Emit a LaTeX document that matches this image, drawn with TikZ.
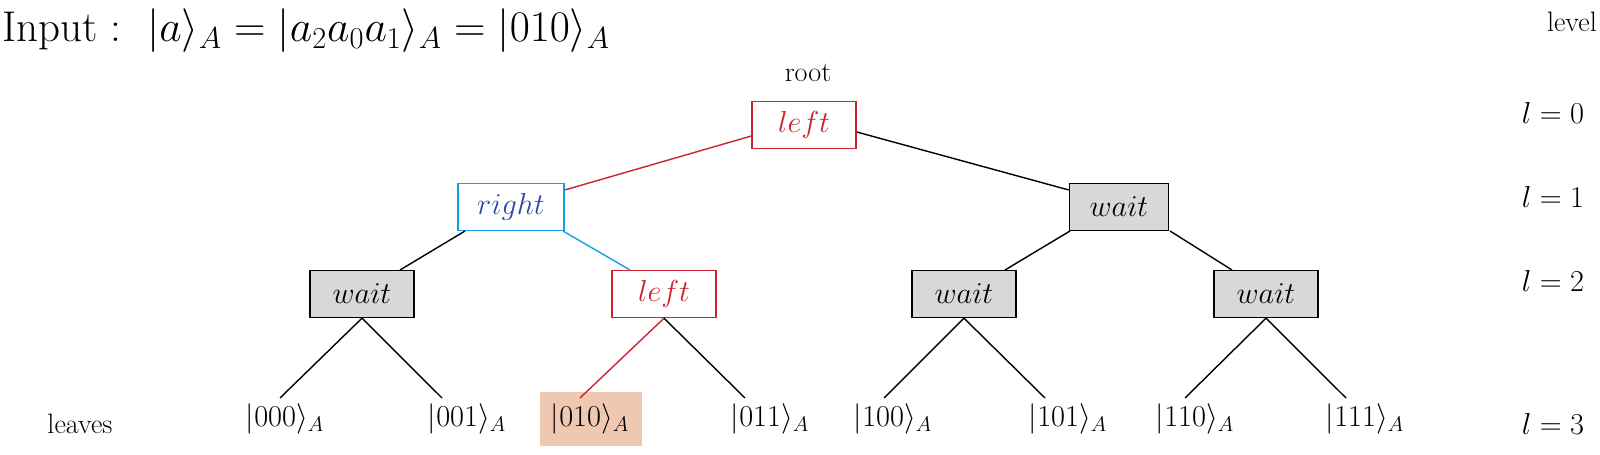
\documentclass[tikz,border=0pt]{standalone}
\usepackage{amsmath}
\definecolor{myred}{RGB}{205,35,45}
\definecolor{mycyan}{RGB}{20,160,230}
\definecolor{myblue}{RGB}{50,70,165}
\definecolor{mygray}{RGB}{216,216,218}
\definecolor{hl}{RGB}{240,200,178}
\begin{document}
\begin{tikzpicture}[x=0.02cm,y=-0.02cm,
  box/.style={draw,line width=0.8pt,minimum width=1.98cm,minimum height=0.94cm,inner sep=0pt,font=\fontsize{19}{22}\selectfont},
  gbox/.style={box,fill=mygray,draw=black},
  leaf/.style={font=\fontsize{18.5}{22}\selectfont,inner sep=2pt,minimum height=0.9cm},
  lab/.style={font=\fontsize{18.5}{22}\selectfont},
  e/.style={line width=0.8pt}]
\useasboundingbox (0,0) rectangle (1600,455);
\node[anchor=west,font=\fontsize{24.5}{29}\selectfont] (inp) at (-4,31) {Input :\ \ $|a\rangle_A=|a_2a_0a_1\rangle_A=|010\rangle_A$};
\node[font=\fontsize{16}{19}\selectfont] (rootl) at (808,73) {root};
\node[font=\fontsize{16}{19}\selectfont] (leavesl) at (80,424) {leaves};
\node[font=\fontsize{16}{19}\selectfont,anchor=east] (lev) at (1603,22) {level};
\node[lab] (l0) at (1553,113) {$l=0$};
\node[lab] (l1) at (1553,197) {$l=1$};
\node[lab] (l2) at (1553,281) {$l=2$};
\node[lab] (l3) at (1553,424) {$l=3$};
\node[box,draw=myred,text=myred,minimum width=2.08cm] (r) at (804,125) {$left$};
\node[box,draw=mycyan,text=myblue,minimum width=2.12cm] (a) at (511,207) {$right$};
\node[gbox] (b) at (1119,207) {$wait$};
\node[gbox,minimum width=2.08cm] (c) at (362,294) {$wait$};
\node[box,draw=myred,text=myred,minimum width=2.08cm] (d) at (664,294) {$left$};
\node[gbox,minimum width=2.08cm] (f) at (964,294) {$wait$};
\node[gbox,minimum width=2.08cm] (g) at (1266,294) {$wait$};
\fill[hl] (540,392) rectangle (642,446);
\node[leaf] (n0) at (285,419) {$|000\rangle_A$};
\node[leaf] (n1) at (467,419) {$|001\rangle_A$};
\node[leaf] (n2) at (590,419) {$|010\rangle_A$};
\node[leaf] (n3) at (770,419) {$|011\rangle_A$};
\node[leaf] (n4) at (893,419) {$|100\rangle_A$};
\node[leaf] (n5) at (1068,419) {$|101\rangle_A$};
\node[leaf] (n6) at (1195,419) {$|110\rangle_A$};
\node[leaf] (n7) at (1365,419) {$|111\rangle_A$};
\draw[e,myred] (r.west|-0,136) -- (a.east|-0,190);
\draw[e] (r.east|-0,132) -- (b.west|-0,190);
\draw[e] (465,231) -- (400,270);
\draw[e,mycyan] (563,231) -- (630,270);
\draw[e] (1070,231) -- (1005,270);
\draw[e] (1170,231) -- (1232,270);
\draw[e] (c.south) -- (280,398);
\draw[e] (c.south) -- (442,398);
\draw[e,myred] (d.south) -- (580,398);
\draw[e] (d.south) -- (745,398);
\draw[e] (f.south) -- (884,398);
\draw[e] (f.south) -- (1045,398);
\draw[e] (g.south) -- (1185,398);
\draw[e] (g.south) -- (1346,398);
\end{tikzpicture}
\end{document}
